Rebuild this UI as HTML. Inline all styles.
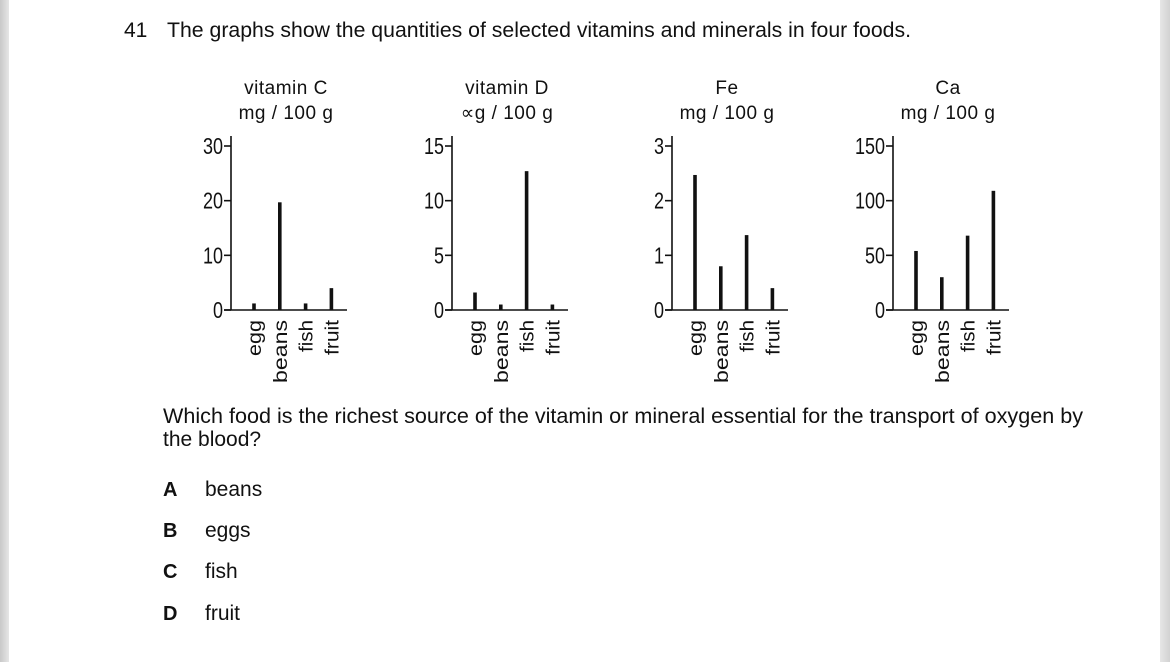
<!DOCTYPE html>
<html><head><meta charset="utf-8"><style>
html,body{margin:0;padding:0;background:#fff;width:1170px;height:662px;overflow:hidden}
svg{display:block;font-family:"Liberation Sans",sans-serif}
</style></head><body>
<svg id="page" width="1170" height="662" viewBox="0 0 1170 662">
<defs>
<linearGradient id="gl" x1="0" x2="1"><stop offset="0" stop-color="#c8c8c8"/><stop offset="1" stop-color="#e6e6e6"/></linearGradient>
<linearGradient id="gr" x1="0" x2="1"><stop offset="0" stop-color="#e6e6e6"/><stop offset="1" stop-color="#d2d2d2"/></linearGradient>
</defs>
<rect x="0" y="0" width="9" height="662" fill="url(#gl)"/>
<rect x="1160" y="0" width="10" height="662" fill="url(#gr)"/>
<text x="124" y="37" font-size="21" fill="#111">41</text>
<text x="167" y="37" font-size="21" fill="#111" textLength="744" lengthAdjust="spacingAndGlyphs">The graphs show the quantities of selected vitamins and minerals in four foods.</text>
<g id="charts"></g>
<text x="163" y="423" font-size="21" fill="#111" textLength="920" lengthAdjust="spacingAndGlyphs">Which food is the richest source of the vitamin or mineral essential for the transport of oxygen by</text>
<text x="163" y="446" font-size="21" fill="#111">the blood?</text>
<g><text x="163" y="496" font-size="20" font-weight="bold" fill="#111">A</text><text x="205" y="496" font-size="21" fill="#111">beans</text></g>
<g><text x="163" y="537" font-size="20" font-weight="bold" fill="#111">B</text><text x="205" y="537" font-size="21" fill="#111">eggs</text></g>
<g><text x="163" y="578" font-size="20" font-weight="bold" fill="#111">C</text><text x="205" y="578" font-size="21" fill="#111">fish</text></g>
<g><text x="163" y="620" font-size="20" font-weight="bold" fill="#111">D</text><text x="205" y="620" font-size="21" fill="#111">fruit</text></g>
</svg>
<script>
const categories = ["egg","beans","fish","fruit"];
const vitaminC = [1.2, 19.7, 1.2, 4];
const vitaminD = [1.6, 0.5, 12.7, 0.5];
const iron = [2.47, 0.8, 1.37, 0.4];
const calcium = [54, 30, 68, 109];
const ticksC = [0,10,20,30];
const ticksD = [0,5,10,15];
const ticksFe = [0,1,2,3];
const ticksCa = [0,50,100,150];
const titles = [["vitamin C","mg / 100 g"],["vitamin D","\u221dg / 100 g"],["Fe","mg / 100 g"],["Ca","mg / 100 g"]];
const labelLens = {egg:36,beans:63,fish:32,fruit:35};

const NS = "http://www.w3.org/2000/svg";
const root = document.getElementById("charts");
function mk(tag, attrs, parent){const e=document.createElementNS(NS,tag);for(const k in attrs)e.setAttribute(k,attrs[k]);parent.appendChild(e);return e;}

const panels = [
  {ax:231, vals:vitaminC, ticks:ticksC, name:"vitamin-c"},
  {ax:452, vals:vitaminD, ticks:ticksD, name:"vitamin-d"},
  {ax:672, vals:iron, ticks:ticksFe, name:"iron"},
  {ax:893, vals:calcium, ticks:ticksCa, name:"calcium"}
];
const y0 = 310, yTop = 146;
panels.forEach((p, pi) => {
  const g = mk("g", {}, root);
  
  
  const max = p.ticks[p.ticks.length-1];
  const y = v => y0 - (v / max) * (y0 - yTop);
  const x = i => p.ax + 23 + i * 25.8;
  const t1 = mk("text", {x:p.ax+55, y:94, "font-size":19, "text-anchor":"middle", fill:"#111", "letter-spacing":"0.5"}, g);
  t1.textContent = titles[pi][0];
  
  
  const t2 = mk("text", {x:p.ax+55, y:119, "font-size":19, "text-anchor":"middle", fill:"#111", "letter-spacing":"0.5"}, g);
  t2.textContent = titles[pi][1];
  
  
  const ya = mk("line", {x1:p.ax, y1:136, x2:p.ax, y2:y0, stroke:"#111", "stroke-width":1.6}, g);
  
  
  const xa = mk("line", {x1:p.ax-7, y1:y0, x2:p.ax+116, y2:y0, stroke:"#111", "stroke-width":1.6}, g);
  
  
  p.ticks.forEach(tv => {
    const tk = mk("line", {x1:p.ax-7, y1:y(tv), x2:p.ax, y2:y(tv), stroke:"#111", "stroke-width":1.6}, g);
    
    
    const tl = mk("text", {x:0, y:0, "font-size":20, "text-anchor":"end", fill:"#111",
      transform:`translate(${p.ax-8},${y(tv)+8}) scale(0.9,1.15)`}, g);
    tl.textContent = tv;
    
    
  });
  p.vals.forEach((v, i) => {
    const b = mk("rect", {x:x(i)-1.8, y:y(v), width:3.6, height:y0-y(v), fill:"#111"}, g);
    
    
    const cx = x(i), ty = 320;
    const lab = mk("text", {x:0, y:0, "font-size":19, "text-anchor":"end", fill:"#111",
      textLength:labelLens[categories[i]], lengthAdjust:"spacingAndGlyphs",
      transform:`translate(${cx+7},${ty}) rotate(-90)`}, g);
    lab.textContent = categories[i];
    
    
  });
});
</script>
</body></html>
